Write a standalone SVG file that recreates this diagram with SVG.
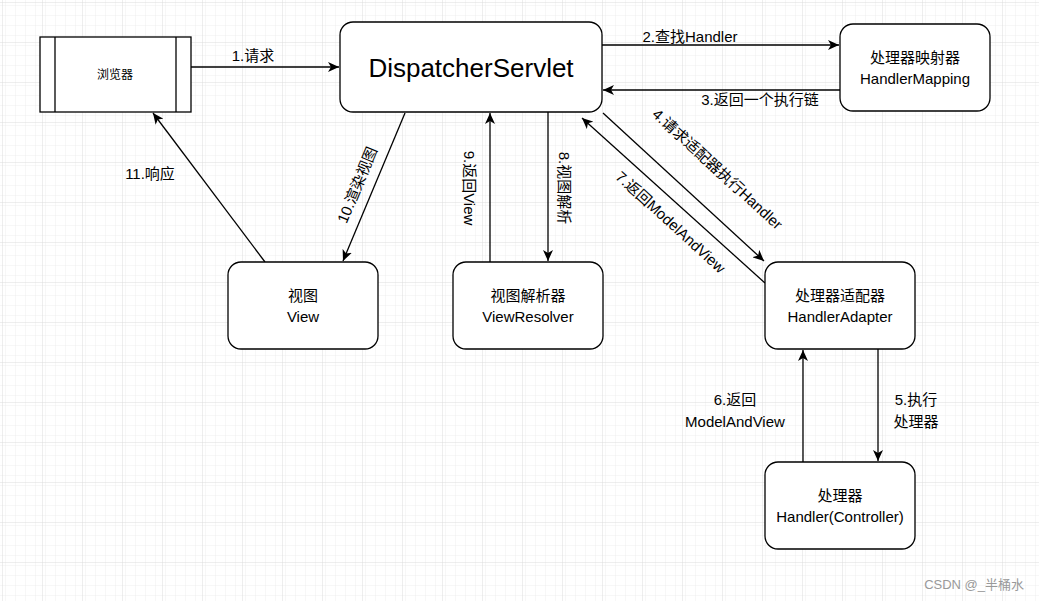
<svg xmlns="http://www.w3.org/2000/svg" width="1039" height="601" viewBox="0 0 1039 601">
<style>
text{font-family:"Liberation Sans","Noto Sans CJK SC",sans-serif;font-size:15px;fill:#000}
.n{fill:#fff;stroke:#000;stroke-width:1.3}
.c{stroke:#000;stroke-width:1.3;fill:none;marker-end:url(#a)}
.m{text-anchor:middle}
</style>
<defs>
<pattern id="g" width="10" height="10" patternUnits="userSpaceOnUse" x="3" y="3"><path d="M10 0V10H0" fill="none" stroke="#eeeeee" stroke-width="1"/></pattern>
<pattern id="G" width="40" height="40" patternUnits="userSpaceOnUse" x="3" y="3"><rect width="40" height="40" fill="url(#g)"/><path d="M40 0V40H0" fill="none" stroke="#dddddd" stroke-width="1"/></pattern>
<marker id="a" markerWidth="12" markerHeight="10" refX="11" refY="5" orient="auto" markerUnits="userSpaceOnUse"><path d="M0 0L11 5L0 10L3 5Z" fill="#000"/></marker>
</defs>
<rect width="1039" height="601" fill="#fff"/>
<rect width="1039" height="601" fill="url(#G)"/>
<g id="connectors">
<line class="c" x1="191" y1="67" x2="339" y2="67"/>
<line class="c" x1="602" y1="45" x2="839" y2="45"/>
<line class="c" x1="840" y1="90" x2="603" y2="90"/>
<line class="c" x1="405" y1="113" x2="343" y2="261"/>
<line class="c" x1="490" y1="262" x2="490" y2="113"/>
<line class="c" x1="548" y1="112" x2="548" y2="261"/>
<line class="c" x1="603" y1="113" x2="764" y2="261"/>
<line class="c" x1="765" y1="283" x2="582" y2="118"/>
<line class="c" x1="265" y1="262" x2="153" y2="113"/>
<line class="c" x1="878" y1="349" x2="878" y2="461"/>
<line class="c" x1="803" y1="462" x2="803" y2="350"/>
<text x="253" y="61" class="m">1.请求</text>
<text x="690" y="42" class="m">2.查找Handler</text>
<text x="760" y="105" class="m">3.返回一个执行链</text>
<text class="m" transform="translate(362,187) rotate(-67.5)">10.渲染视图</text>
<text class="m" transform="translate(464,188) rotate(90)">9.返回View</text>
<text class="m" transform="translate(559,188) rotate(90)">8.视图解析</text>
<text class="m" transform="translate(714,173) rotate(42.5)">4.请求适配器执行Handler</text>
<text class="m" transform="translate(667,226) rotate(42.5)">7.返回ModelAndView</text>
<text x="150" y="179" class="m">11.响应</text>
<text x="916" y="405" class="m">5.执行</text>
<text x="916" y="427" class="m">处理器</text>
<text x="735" y="405" class="m">6.返回</text>
<text x="735" y="427" class="m">ModelAndView</text>
</g>
<g id="browser">
<rect class="n" x="40" y="37" width="151" height="75"/>
<line x1="55" y1="37" x2="55" y2="112" stroke="#000" stroke-width="1.3"/>
<line x1="176" y1="37" x2="176" y2="112" stroke="#000" stroke-width="1.3"/>
<text x="115" y="79" class="m" style="font-size:12px">浏览器</text>
</g>
<g id="dispatcher">
<rect class="n" x="340" y="22" width="262" height="90" rx="13"/>
<text x="471" y="77" class="m" style="font-size:26px">DispatcherServlet</text>
</g>
<g id="mapping">
<rect class="n" x="840" y="24" width="150" height="87" rx="13"/>
<text x="915" y="63" class="m">处理器映射器</text>
<text x="915" y="84" class="m">HandlerMapping</text>
</g>
<g id="view">
<rect class="n" x="228" y="262" width="150" height="87" rx="13"/>
<text x="303" y="301" class="m">视图</text>
<text x="303" y="322" class="m">View</text>
</g>
<g id="resolver">
<rect class="n" x="453" y="262" width="150" height="87" rx="13"/>
<text x="528" y="301" class="m">视图解析器</text>
<text x="528" y="322" class="m">ViewResolver</text>
</g>
<g id="adapter">
<rect class="n" x="765" y="262" width="150" height="87" rx="13"/>
<text x="840" y="301" class="m">处理器适配器</text>
<text x="840" y="322" class="m">HandlerAdapter</text>
</g>
<g id="handler">
<rect class="n" x="765" y="462" width="150" height="87" rx="13"/>
<text x="840" y="501" class="m">处理器</text>
<text x="840" y="522" class="m">Handler(Controller)</text>
</g>
<text x="1024" y="589" style="font-size:13px;fill:#999;text-anchor:end">CSDN @_半桶水</text>
</svg>
